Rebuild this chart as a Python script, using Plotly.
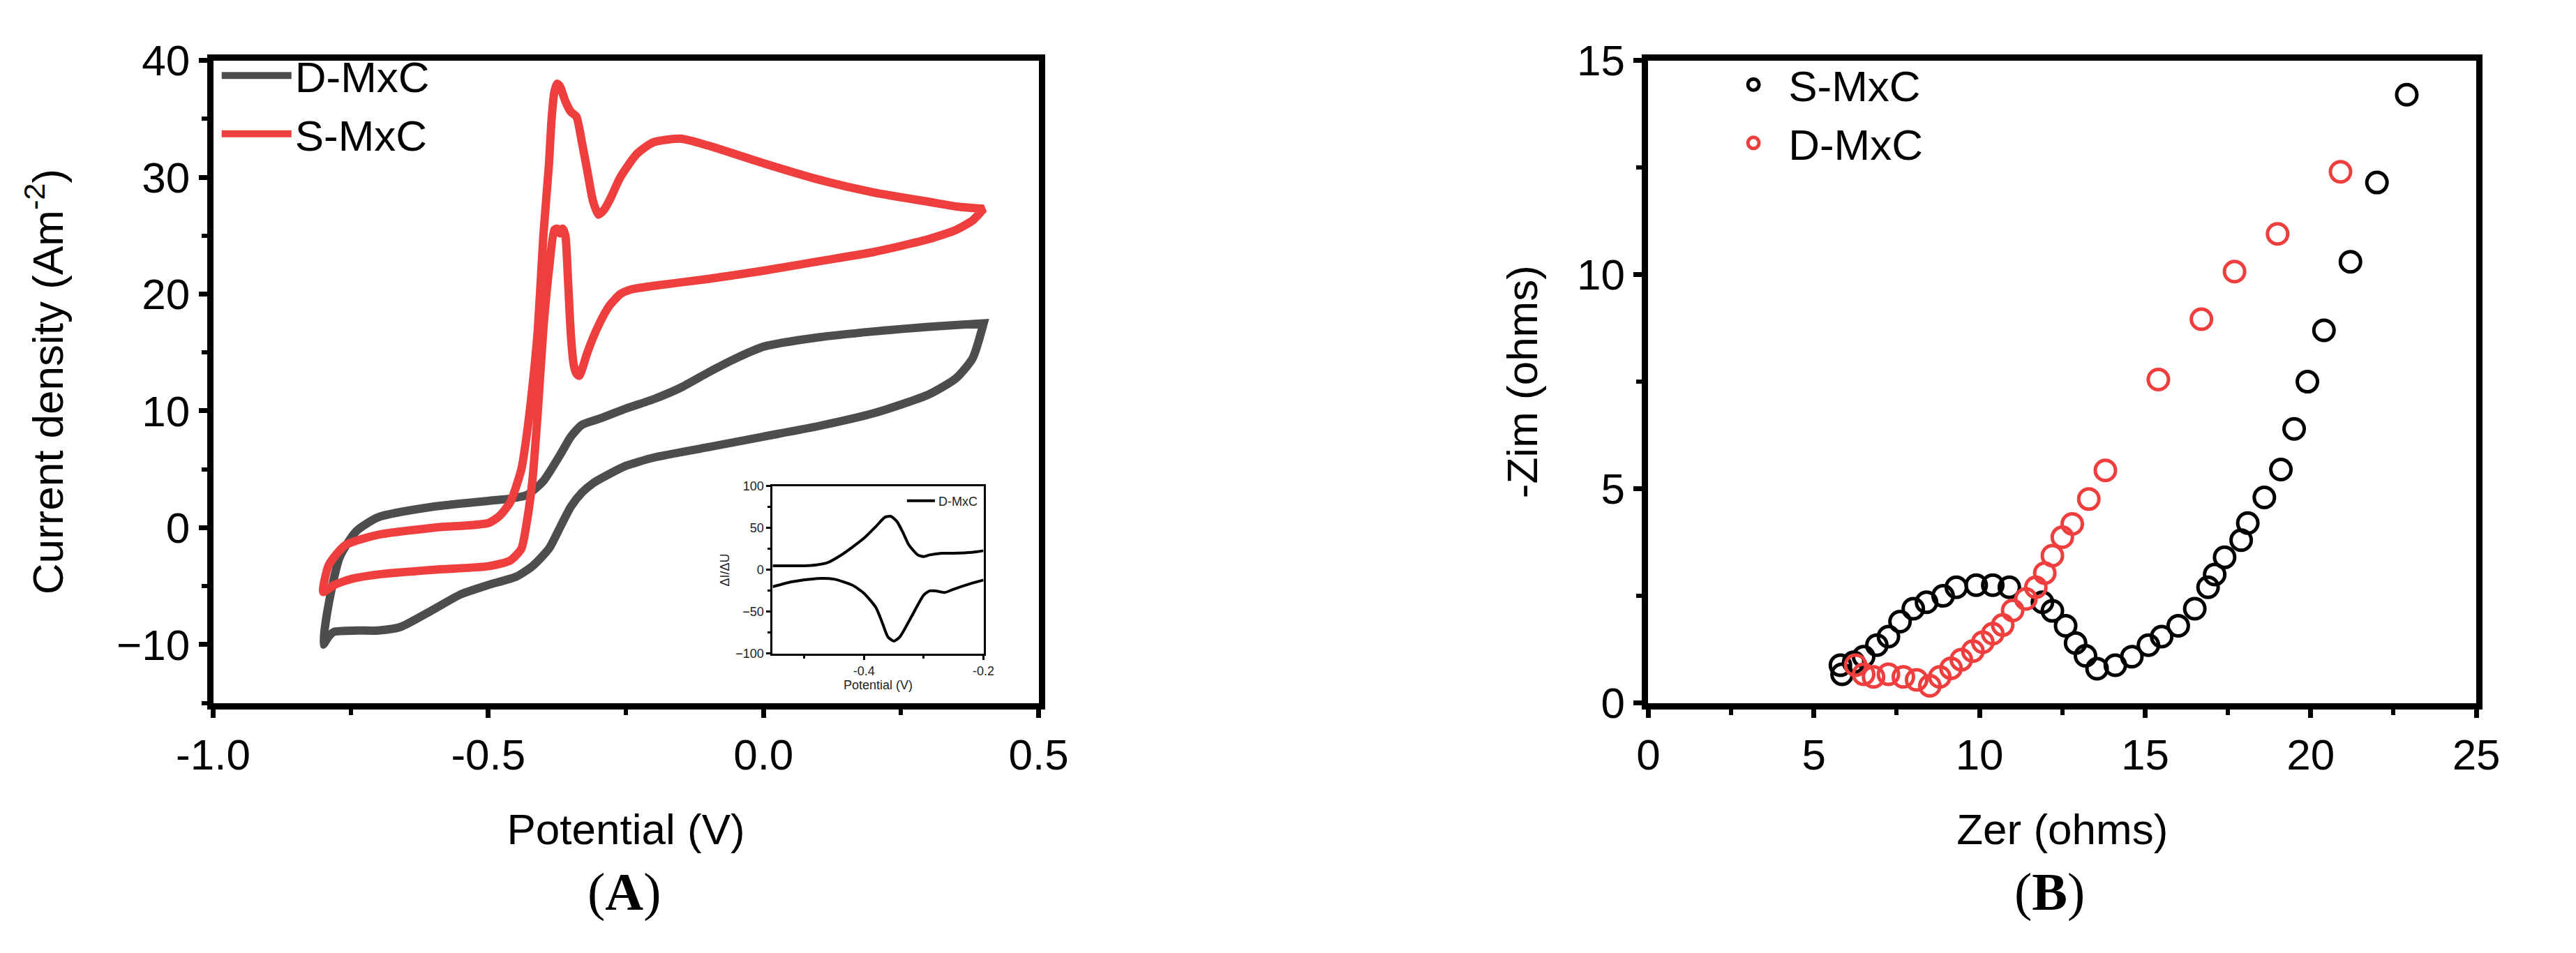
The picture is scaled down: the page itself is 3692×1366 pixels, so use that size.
import plotly.graph_objects as go

# Panel A: CV curves (closed loops)
d_cv_v = [-0.8,-0.79,-0.78,-0.74,-0.7,-0.66,-0.6,-0.55,-0.5,-0.45,-0.42,-0.39,-0.37,-0.35,-0.33,-0.31,-0.28,-0.25,-0.2,-0.1,0.0,0.1,0.2,0.3,0.35,0.38,0.4,
          0.4,0.3,0.2,0.1,0.0,-0.05,-0.1,-0.15,-0.2,-0.25,-0.3,-0.33,-0.35,-0.37,-0.4,-0.43,-0.46,-0.5,-0.6,-0.7,-0.74,-0.77,-0.79,-0.8]
d_cv_i = [-10,-9.3,-8.9,-8.8,-8.8,-8.5,-7,-5.7,-4.9,-4.2,-3.3,-1.8,0,1.8,3,3.8,4.6,5.3,6.0,6.9,7.8,8.7,9.8,11.4,12.8,14.5,17.5,
          17.5,17.2,16.8,16.3,15.5,14.5,13.3,12.0,11.0,10.2,9.3,8.8,7.8,6.2,4.0,2.8,2.5,2.3,1.8,0.9,-0.3,-2.5,-6.5,-10]
s_cv_v = [-0.8,-0.78,-0.75,-0.7,-0.6,-0.5,-0.46,-0.44,-0.43,-0.42,-0.41,-0.4,-0.39,-0.38,-0.375,-0.37,-0.365,-0.36,-0.355,-0.35,-0.345,-0.34,-0.335,-0.33,-0.32,-0.3,-0.28,-0.26,-0.24,-0.2,-0.1,0.0,0.1,0.2,0.3,0.35,0.38,0.4,
          0.4,0.35,0.3,0.2,0.1,0.0,-0.1,-0.15,-0.2,-0.23,-0.26,-0.28,-0.29,-0.3,-0.31,-0.32,-0.33,-0.34,-0.35,-0.36,-0.37,-0.375,-0.38,-0.385,-0.39,-0.4,-0.41,-0.42,-0.43,-0.44,-0.46,-0.48,-0.5,-0.6,-0.7,-0.76,-0.79,-0.8]
s_cv_i = [-5.5,-4.9,-4.4,-4.0,-3.6,-3.3,-2.8,-1.8,0.5,4,10,17,22,25.5,25.6,25.2,25.6,25.0,21,16.5,14,13.2,13.0,13.5,15,17.3,19.0,20.0,20.4,20.7,21.3,22.0,22.8,23.6,24.7,25.5,26.3,27.3,
          27.3,27.5,27.9,28.7,29.8,31.2,32.7,33.3,33.0,32.0,30.0,28.0,27.2,26.8,28.0,30.5,33.0,35.2,35.6,36.5,37.8,38.0,37.3,35.0,31.0,25.0,17.0,12.0,8.0,5.0,2.2,1.0,0.4,0.0,-0.6,-1.5,-3.2,-5.5]

# Inset: derivative dI/dU of D-MxC
ins_v_up = [-0.553,-0.5,-0.48,-0.46,-0.44,-0.42,-0.4,-0.38,-0.365,-0.355,-0.345,-0.335,-0.325,-0.31,-0.3,-0.29,-0.27,-0.25,-0.22,-0.2]
ins_i_up = [5,5,6,9,17,27,38,52,63,64,58,45,30,18,16,18,20,20,21,23]
ins_v_lo = [-0.553,-0.52,-0.49,-0.47,-0.45,-0.42,-0.4,-0.38,-0.37,-0.36,-0.35,-0.34,-0.32,-0.3,-0.29,-0.28,-0.265,-0.25,-0.22,-0.2]
ins_i_lo = [-20,-14,-11,-10,-11,-18,-28,-45,-62,-80,-85,-80,-55,-30,-25,-25,-27,-23,-16,-12]

# Panel B: Nyquist
s_zre = [5.85,5.8,6.2,6.5,6.9,7.25,7.6,8.0,8.4,8.9,9.3,9.9,10.4,10.9,11.9,12.2,12.6,12.9,13.2,13.55,14.1,14.6,15.1,15.5,16.0,16.5,16.9,17.1,17.4,17.9,18.1,18.6,19.1,19.5,19.9,20.4,21.2,22.0,22.9]
s_zim = [0.67,0.88,0.95,1.08,1.35,1.55,1.9,2.2,2.35,2.5,2.7,2.75,2.75,2.7,2.35,2.15,1.8,1.4,1.1,0.8,0.88,1.08,1.35,1.55,1.8,2.2,2.7,3.0,3.4,3.8,4.2,4.8,5.45,6.4,7.5,8.7,10.3,12.15,14.2]
d_zre = [6.26,6.5,6.8,7.25,7.7,8.1,8.5,8.8,9.14,9.45,9.8,10.1,10.4,10.7,11.0,11.4,11.7,11.97,12.2,12.5,12.8,13.3,13.8,15.4,16.7,17.7,19.0,20.9]
d_zim = [0.88,0.67,0.61,0.67,0.61,0.54,0.4,0.61,0.81,1.01,1.21,1.42,1.62,1.82,2.16,2.43,2.7,3.03,3.44,3.87,4.18,4.76,5.43,7.55,8.96,10.07,10.95,12.4]

GRAY = "#4d4d4d"
RED = "#ef3e3e"
FONT = "Liberation Sans"

fig = go.Figure()
fig.add_trace(go.Scatter(x=d_cv_v, y=d_cv_i, mode="lines", name="D-MxC",
                         line=dict(color=GRAY, width=12, shape="spline", smoothing=0.6), xaxis="x", yaxis="y", legend="legend"))
fig.add_trace(go.Scatter(x=s_cv_v, y=s_cv_i, mode="lines", name="S-MxC",
                         line=dict(color=RED, width=12, shape="spline", smoothing=0.6), xaxis="x", yaxis="y", legend="legend"))
fig.add_trace(go.Scatter(x=ins_v_up, y=ins_i_up, mode="lines", name="D-MxC",
                         line=dict(color="black", width=4, shape="spline", smoothing=0.6), xaxis="x3", yaxis="y3", legend="legend3"))
fig.add_trace(go.Scatter(x=ins_v_lo, y=ins_i_lo, mode="lines", showlegend=False,
                         line=dict(color="black", width=4, shape="spline", smoothing=0.6), xaxis="x3", yaxis="y3"))
fig.add_trace(go.Scatter(x=s_zre, y=s_zim, mode="markers", name="S-MxC",
                         marker=dict(symbol="circle-open", size=29, color="black", line=dict(width=5)),
                         xaxis="x2", yaxis="y2", legend="legend2"))
fig.add_trace(go.Scatter(x=d_zre, y=d_zim, mode="markers", name="D-MxC",
                         marker=dict(symbol="circle-open", size=29, color=RED, line=dict(width=5)),
                         xaxis="x2", yaxis="y2", legend="legend2"))

tickf = dict(family=FONT, size=62, color="black")
titf = dict(family=FONT, size=62, color="black")
common = dict(showline=True, linecolor="black", linewidth=9, mirror=True, ticks="outside",
              ticklen=12, tickwidth=7, tickcolor="black", showgrid=False, zeroline=False, tickfont=tickf)
minor = dict(ticks="outside", ticklen=8, tickwidth=6, tickcolor="black", showgrid=False)
insf = dict(family=FONT, size=18, color="#222222")
ins_common = dict(showline=True, linecolor="black", linewidth=3, mirror=True, ticks="outside", ticklen=6,
                  tickwidth=3, tickcolor="black", showgrid=False, zeroline=False, tickfont=insf)

fig.update_layout(
    width=3692, height=1366, margin=dict(l=0, r=0, t=0, b=0),
    paper_bgcolor="white", plot_bgcolor="white",
    xaxis=dict(domain=[0.068, 0.397], range=[-1.0, 0.5], tickvals=[-1.0,-0.5,0.0,0.5],
               ticktext=["-1.0","-0.5","0.0","0.5"], minor=dict(dtick=0.25, **minor),
               title=dict(text="Potential (V)", font=titf, standoff=55), anchor="y", **common),
    yaxis=dict(domain=[0.2555, 0.9656], range=[-15, 40], tickvals=[-10,0,10,20,30,40],
               minor=dict(dtick=5, **minor),
               title=dict(text="Current density (Am<sup>-2</sup>)", font=titf, standoff=60), anchor="x", **common),
    xaxis2=dict(domain=[0.640, 0.970], range=[0, 25], tickvals=[0,5,10,15,20,25],
                minor=dict(dtick=2.5, **minor),
                title=dict(text="Zer (ohms)", font=titf, standoff=55), anchor="y2", **common),
    yaxis2=dict(domain=[0.2555, 0.9656], range=[0, 15], tickvals=[0,5,10,15],
                minor=dict(dtick=2.5, **minor),
                title=dict(text="-Zim (ohms)", font=titf, standoff=40), anchor="x2", **common),
    xaxis3=dict(domain=[0.291, 0.375], range=[-0.553, -0.2], tickvals=[-0.4,-0.2], ticktext=["-0.4","-0.2"],
                minor=dict(tickvals=[-0.5,-0.3], ticks="outside", ticklen=4, tickwidth=3, tickcolor="black", showgrid=False),
                title=dict(text="Potential (V)", font=insf, standoff=4), anchor="y3", **ins_common),
    yaxis3=dict(domain=[0.31, 0.495], range=[-100, 100], tickvals=[-100,-50,0,50,100],
                minor=dict(dtick=25, ticks="outside", ticklen=4, tickwidth=3, tickcolor="black", showgrid=False),
                title=dict(text="ΔI/ΔU", font=insf, standoff=4), anchor="x3", **ins_common),
    legend=dict(x=0.070, y=0.985, xanchor="left", yanchor="top", bgcolor="rgba(0,0,0,0)",
                font=dict(family=FONT, size=62, color="black"), itemwidth=100, tracegroupgap=0),
    legend2=dict(x=0.668, y=0.975, xanchor="left", yanchor="top", bgcolor="rgba(0,0,0,0)",
                 font=dict(family=FONT, size=62, color="black"), itemwidth=90),
    legend3=dict(x=0.374, y=0.493, xanchor="right", yanchor="top", bgcolor="rgba(0,0,0,0)",
                 font=insf, itemwidth=40),
    annotations=[
        dict(text="(<b>A</b>)", x=0.232, y=0.047, xref="paper", yref="paper", showarrow=False,
             xanchor="center", yanchor="middle",
             font=dict(family="Liberation Serif", size=76, color="black")),
        dict(text="(<b>B</b>)", x=0.80, y=0.047, xref="paper", yref="paper", showarrow=False,
             xanchor="center", yanchor="middle",
             font=dict(family="Liberation Serif", size=76, color="black")),
    ],
)

fig.write_html("out.html")
